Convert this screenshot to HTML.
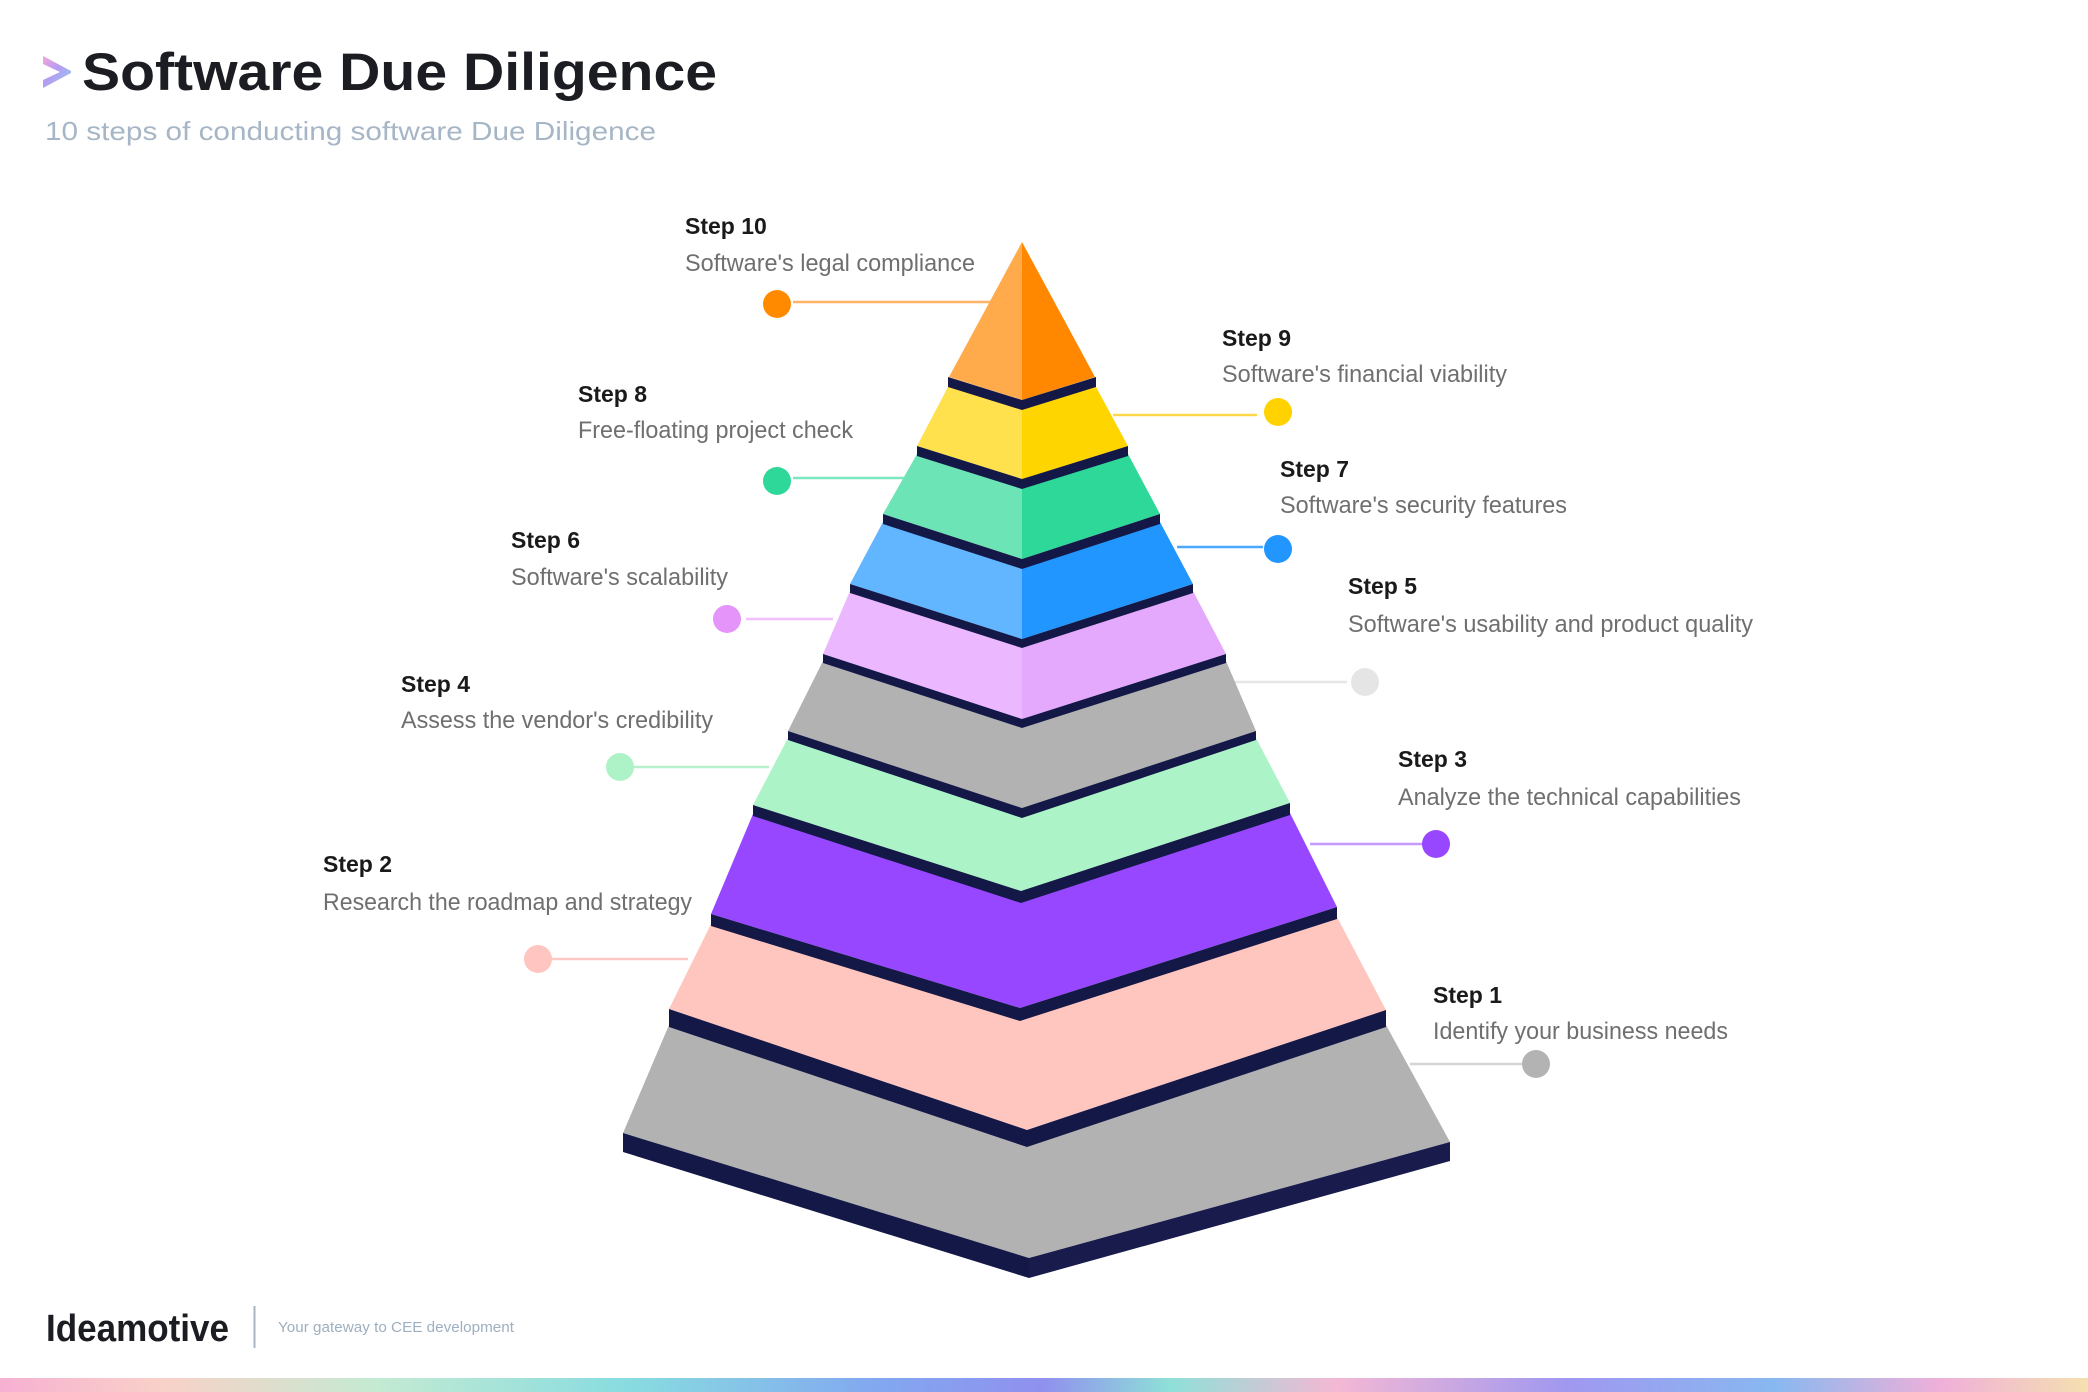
<!DOCTYPE html>
<html>
<head>
<meta charset="utf-8">
<style>
html,body{margin:0;padding:0;background:#ffffff;}
body{width:2088px;height:1392px;overflow:hidden;}
svg{display:block;}
.st{font-family:"Liberation Sans",Arial,sans-serif;font-weight:bold;font-size:23px;fill:#1a1a1a;}
.ds{font-family:"Liberation Sans",Arial,sans-serif;font-size:24px;fill:#6f6f6f;}
</style>
</head>
<body>
<svg width="2088" height="1392" viewBox="0 0 2088 1392" xmlns="http://www.w3.org/2000/svg">
<defs>
<linearGradient id="chev" x1="0" y1="0" x2="1" y2="1">
<stop offset="0" stop-color="#f5a6d6"/>
<stop offset="0.45" stop-color="#b49cf2"/>
<stop offset="1" stop-color="#8fd0f0"/>
</linearGradient>
<linearGradient id="bar" x1="0" y1="0" x2="1" y2="0">
<stop offset="0" stop-color="#f7b0d2"/>
<stop offset="0.08" stop-color="#f8d2c8"/>
<stop offset="0.18" stop-color="#c4ead2"/>
<stop offset="0.3" stop-color="#88dce0"/>
<stop offset="0.42" stop-color="#82a8f0"/>
<stop offset="0.5" stop-color="#9090ee"/>
<stop offset="0.56" stop-color="#8ee0d8"/>
<stop offset="0.64" stop-color="#f4b8d4"/>
<stop offset="0.75" stop-color="#a098f0"/>
<stop offset="0.85" stop-color="#88b8f0"/>
<stop offset="0.93" stop-color="#f0b0d8"/>
<stop offset="1" stop-color="#f4e0b0"/>
</linearGradient>
</defs>

<!-- Header -->
<polygon points="43,56 71,71 71,73 43,88 43,80 60,72 43,64" fill="url(#chev)"/>
<text x="82" y="90" font-family="Liberation Sans, Arial, sans-serif" font-weight="bold" font-size="53" fill="#1b1d22" textLength="635" lengthAdjust="spacingAndGlyphs">Software Due Diligence</text>
<text x="45" y="140" font-family="Liberation Sans, Arial, sans-serif" font-size="26" fill="#a6b6c6" textLength="611" lengthAdjust="spacingAndGlyphs">10 steps of conducting software Due Diligence</text>

<!-- Connector lines -->
<g stroke-width="2.5" fill="none">
<line x1="793" y1="302" x2="993" y2="302" stroke="#ffb366"/>
<line x1="1113" y1="415" x2="1257" y2="415" stroke="#ffd84a"/>
<line x1="793" y1="478" x2="907" y2="478" stroke="#7de8bf"/>
<line x1="1177" y1="547" x2="1263" y2="547" stroke="#4aa8ff"/>
<line x1="746" y1="619" x2="833" y2="619" stroke="#f0c0ff"/>
<line x1="1235" y1="682" x2="1347" y2="682" stroke="#e6e6e6"/>
<line x1="633" y1="767" x2="769" y2="767" stroke="#b8f0cc"/>
<line x1="1310" y1="844" x2="1423" y2="844" stroke="#c69aff"/>
<line x1="552" y1="959" x2="688" y2="959" stroke="#ffc8c2"/>
<line x1="1410" y1="1064" x2="1523" y2="1064" stroke="#d5d5d5"/>
</g>

<!-- Pyramid -->
<!-- Layer 1 gray -->
<polygon points="669,1025 1027,1145 1386,1025 1450,1142 1029,1258 623,1133" fill="#b2b2b2"/>
<polygon points="623,1133 1029,1258 1029,1278 623,1152" fill="#141847"/>
<polygon points="1029,1258 1450,1142 1450,1161 1029,1278" fill="#181b4c"/>
<!-- Layer 2 pink -->
<polygon points="711,924 1020,1019 1337,917 1386,1010 1027,1130 669,1009" fill="#ffc5bf"/>
<polygon points="669,1009 1027,1130 1386,1010 1386,1027 1027,1147 669,1027" fill="#141847"/>
<!-- Layer 3 purple -->
<polygon points="753,814 1021,901 1290,813 1337,907 1020,1008 711,914" fill="#9747ff"/>
<polygon points="711,914 1020,1008 1337,907 1337,919 1020,1021 711,926" fill="#141847"/>
<!-- Layer 4 light green -->
<polygon points="788,738 1022,816 1256,738 1290,803 1021,891 753,805" fill="#adf3c8"/>
<polygon points="753,805 1021,891 1290,803 1290,815 1021,903 753,816" fill="#141847"/>
<!-- Layer 5 gray -->
<polygon points="823,661 1022,726 1226,661 1256,731 1022,808 788,731" fill="#b2b2b2"/>
<polygon points="788,731 1022,808 1256,731 1256,740 1022,818 788,740" fill="#141847"/>
<!-- Layer 6 lavender -->
<polygon points="850,591 1022,646 1022,719 823,654" fill="#ebb8ff"/>
<polygon points="1022,646 1193,591 1226,654 1022,719" fill="#e4a9fc"/>
<polygon points="823,654 1022,719 1226,654 1226,663 1022,728 823,663" fill="#141847"/>
<!-- Layer 7 blue -->
<polygon points="883,522 1022,567 1022,639 850,584" fill="#62b5ff"/>
<polygon points="1022,567 1160,522 1193,584 1022,639" fill="#2196ff"/>
<polygon points="850,584 1022,639 1193,584 1193,593 1022,648 850,593" fill="#141847"/>
<!-- Layer 8 green -->
<polygon points="917,454 1022,487 1022,559 883,514" fill="#6ce4b5"/>
<polygon points="1022,487 1128,454 1160,514 1022,559" fill="#2ed898"/>
<polygon points="883,514 1022,559 1160,514 1160,524 1022,569 883,524" fill="#141847"/>
<!-- Layer 9 yellow -->
<polygon points="949,385 1022,408 1022,479 917,446" fill="#ffe04d"/>
<polygon points="1022,408 1095,385 1128,446 1022,479" fill="#ffd500"/>
<polygon points="917,446 1022,479 1128,446 1128,456 1022,489 917,456" fill="#141847"/>
<!-- Layer 10 orange -->
<polygon points="1022,242 1022,400 949,377" fill="#ffaa4b"/>
<polygon points="1022,242 1095,377 1022,400" fill="#ff8800"/>
<polygon points="948,377 1022,400 1096,377 1096,387 1022,410 948,387" fill="#141847"/>

<!-- Dots -->
<circle cx="777" cy="304" r="14" fill="#ff8a00"/>
<circle cx="1278" cy="412" r="14" fill="#ffd200"/>
<circle cx="777" cy="481" r="14" fill="#2ed898"/>
<circle cx="1278" cy="549" r="14" fill="#2196ff"/>
<circle cx="727" cy="619" r="14" fill="#e594fa"/>
<circle cx="1365" cy="682" r="14" fill="#e5e5e5"/>
<circle cx="620" cy="767" r="14" fill="#aef3c8"/>
<circle cx="1436" cy="844" r="14" fill="#9747ff"/>
<circle cx="538" cy="959" r="14" fill="#ffc5c0"/>
<circle cx="1536" cy="1064" r="14" fill="#b3b3b3"/>

<!-- Labels -->
<text class="st" x="685" y="234">Step 10</text>
<text class="ds" x="685" y="271" textLength="290" lengthAdjust="spacingAndGlyphs">Software's legal compliance</text>

<text class="st" x="1222" y="346">Step 9</text>
<text class="ds" x="1222" y="382" textLength="285" lengthAdjust="spacingAndGlyphs">Software's financial viability</text>

<text class="st" x="578" y="402">Step 8</text>
<text class="ds" x="578" y="438" textLength="275" lengthAdjust="spacingAndGlyphs">Free-floating project check</text>

<text class="st" x="1280" y="477">Step 7</text>
<text class="ds" x="1280" y="513" textLength="287" lengthAdjust="spacingAndGlyphs">Software's security features</text>

<text class="st" x="511" y="548">Step 6</text>
<text class="ds" x="511" y="585" textLength="217" lengthAdjust="spacingAndGlyphs">Software's scalability</text>

<text class="st" x="1348" y="594">Step 5</text>
<text class="ds" x="1348" y="632" textLength="405" lengthAdjust="spacingAndGlyphs">Software's usability and product quality</text>

<text class="st" x="401" y="692">Step 4</text>
<text class="ds" x="401" y="728" textLength="312" lengthAdjust="spacingAndGlyphs">Assess the vendor's credibility</text>

<text class="st" x="1398" y="767">Step 3</text>
<text class="ds" x="1398" y="805" textLength="343" lengthAdjust="spacingAndGlyphs">Analyze the technical capabilities</text>

<text class="st" x="323" y="872">Step 2</text>
<text class="ds" x="323" y="910" textLength="369" lengthAdjust="spacingAndGlyphs">Research the roadmap and strategy</text>

<text class="st" x="1433" y="1003">Step 1</text>
<text class="ds" x="1433" y="1039" textLength="295" lengthAdjust="spacingAndGlyphs">Identify your business needs</text>

<!-- Footer -->
<text x="46" y="1341" font-family="Liberation Sans, Arial, sans-serif" font-weight="bold" font-size="38" fill="#1b1d22" textLength="183" lengthAdjust="spacingAndGlyphs">Ideamotive</text>
<line x1="254.5" y1="1306" x2="254.5" y2="1348" stroke="#a8b6c4" stroke-width="2"/>
<text x="278" y="1332" font-family="Liberation Sans, Arial, sans-serif" font-size="15" fill="#9dafc0" textLength="236" lengthAdjust="spacingAndGlyphs">Your gateway to CEE development</text>
<rect x="0" y="1378" width="2088" height="14" fill="url(#bar)"/>
</svg>
</body>
</html>
